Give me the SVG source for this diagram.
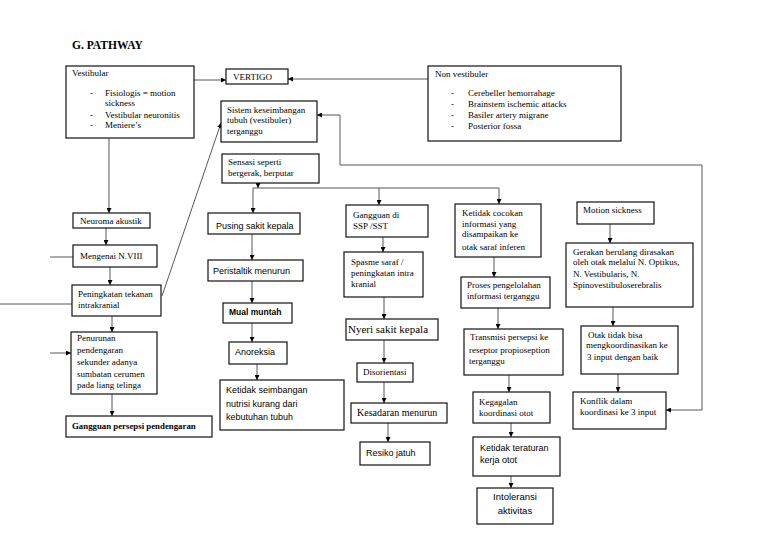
<svg xmlns="http://www.w3.org/2000/svg" width="768" height="543" viewBox="0 0 768 543">
<defs>
<style>
.bx{fill:#fff;stroke:#111;stroke-width:1.2}
.c{fill:none;stroke:#444;stroke-width:0.9}
.ca{fill:none;stroke:#444;stroke-width:0.9;marker-end:url(#a)}
text{font-family:"Liberation Serif","Times New Roman",serif;font-size:9px;fill:#000}
.ss{font-family:"Liberation Sans",Arial,sans-serif;font-size:9px}
.sb{font-family:"Liberation Sans",Arial,sans-serif;font-size:8.5px;font-weight:bold}
.t{font-size:11.5px;font-weight:bold}
.b{font-weight:bold;font-size:8.8px}
.l{font-size:10px}
</style>
<marker id="a" viewBox="0 0 10 10" refX="10" refY="5" markerWidth="5" markerHeight="5" markerUnits="userSpaceOnUse" orient="auto-start-reverse"><path d="M0,0 L10,5 L0,10z" fill="#000"/></marker>
</defs>
<rect width="768" height="543" fill="#fff"/>
<text class="t" x="72" y="49">G. PATHWAY</text>

<g id="connectors">
<path class="ca" d="M194,80 H226"/>
<path class="ca" d="M428,79 H288"/>
<path class="c" d="M666,410 H702 V165 H340 V115 H317" marker-start="url(#a)" marker-end="url(#a)"/>
<path class="ca" d="M109,138 V213"/>
<path class="ca" d="M106,228 V245"/>
<path class="c" d="M50,257 H73"/>
<path class="ca" d="M110,267 V285"/>
<path class="c" d="M0,304 H88"/>
<path class="ca" d="M162,296 L221,123"/>
<path class="ca" d="M112,316 V332"/>
<path class="ca" d="M50,353 H71"/>
<path class="ca" d="M112,394 V416"/>
<path class="ca" d="M258,183 V188"/>
<path class="c" d="M253,188 H499"/>
<path class="ca" d="M253,188 V213"/>
<path class="ca" d="M379,188 V205"/>
<path class="ca" d="M499,188 V204"/>
<path class="ca" d="M252,234 V260"/>
<path class="ca" d="M252,281 V303"/>
<path class="ca" d="M252,323 V342"/>
<path class="ca" d="M257,364 V380"/>
<path class="ca" d="M383,237 V252"/>
<path class="ca" d="M384,297 V319"/>
<path class="ca" d="M384,340 V363"/>
<path class="ca" d="M384,382 V403"/>
<path class="ca" d="M388,423 V442"/>
<path class="ca" d="M494,257 V277"/>
<path class="ca" d="M498,308 V329"/>
<path class="ca" d="M509,375 V392"/>
<path class="ca" d="M511,423 V437"/>
<path class="ca" d="M511,476 V488"/>
<path class="ca" d="M610,224 V243"/>
<path class="ca" d="M613,307 V326"/>
<path class="ca" d="M618,374 V392"/>
</g>

<g id="vestibular">
<rect class="bx" x="66" y="66" width="128" height="72"/>
<text x="72" y="76">Vestibular</text>
<text x="90" y="95.5">-</text><text x="105" y="95.5">Fisiologis = motion</text>
<text x="105" y="105.5">sickness</text>
<text x="90" y="118">-</text><text x="105" y="118">Vestibular neuronitis</text>
<text x="90" y="128">-</text><text x="105" y="128">Meniere’s</text>
</g>

<g id="vertigo">
<rect class="bx" x="226" y="69" width="62" height="15"/>
<text x="233" y="80">VERTIGO</text>
</g>

<g id="nonvestibular">
<rect class="bx" x="428" y="66" width="193" height="75"/>
<text x="435" y="77">Non vestibuler</text>
<text x="451" y="96">-</text><text x="468" y="96">Cerebeller hemorrahage</text>
<text x="451" y="107">-</text><text x="468" y="107">Brainstem  ischemic attacks</text>
<text x="451" y="118">-</text><text x="468" y="118">Basiler artery migrane</text>
<text x="451" y="128.5">-</text><text x="468" y="128.5">Posterior fossa</text>
</g>

<g id="sistem">
<rect class="bx" x="221" y="101" width="96" height="41"/>
<text x="227" y="113">Sistem keseimbangan</text>
<text x="227" y="123">tubuh (vestibuler)</text>
<text x="227" y="134">terganggu</text>
</g>

<g id="neuroma">
<rect class="bx" x="73" y="213" width="77" height="15"/>
<text x="80" y="224">Neuroma akustik</text>
</g>

<g id="mengenai">
<rect class="bx" x="73" y="245" width="84" height="22"/>
<text x="80" y="259">Mengenai N.VIII</text>
</g>

<g id="peningkatan">
<rect class="bx" x="72" y="285" width="89" height="31"/>
<text x="78" y="297">Peningkatan tekanan</text>
<text x="78" y="308">intrakranial</text>
</g>

<g id="penurunan">
<rect class="bx" x="71" y="332" width="86" height="62"/>
<text x="77" y="341">Penurunan</text>
<text x="77" y="353">pendengaran</text>
<text x="77" y="365">sekunder adanya</text>
<text x="77" y="377">sumbatan cerumen</text>
<text x="77" y="388">pada liang telinga</text>
</g>

<g id="gangguan-persepsi">
<rect class="bx" x="66" y="416" width="146" height="21"/>
<text class="b" x="72" y="429">Gangguan persepsi pendengaran</text>
</g>

<g id="sensasi">
<rect class="bx" x="222" y="154" width="97" height="29"/>
<text x="228" y="165">Sensasi seperti</text>
<text x="228" y="176">bergerak, berputar</text>
</g>

<g id="pusing">
<rect class="bx" x="208" y="213" width="92" height="21"/>
<text class="ss" x="216" y="229">Pusing sakit kepala</text>
</g>

<g id="peristaltik">
<rect class="bx" x="208" y="260" width="95" height="21"/>
<text class="ss" x="213" y="274">Peristaltik menurun</text>
</g>

<g id="mual">
<rect class="bx" x="223" y="303" width="69" height="20"/>
<text class="sb" x="229" y="315">Mual muntah</text>
</g>

<g id="anoreksia">
<rect class="bx" x="229" y="342" width="58" height="22"/>
<text class="ss" x="235" y="355">Anoreksia</text>
</g>

<g id="ketidak-seimbangan">
<rect class="bx" x="220" y="380" width="124" height="50"/>
<text class="ss" x="226" y="393">Ketidak seimbangan</text>
<text class="ss" x="226" y="406.5">nutrisi kurang dari</text>
<text class="ss" x="226" y="420">kebutuhan tubuh</text>
</g>

<g id="gangguan-ssp">
<rect class="bx" x="346" y="205" width="82" height="32"/>
<text x="353" y="218">Gangguan di</text>
<text x="353" y="229">SSP /SST</text>
</g>

<g id="spasme">
<rect class="bx" x="344" y="252" width="79" height="45"/>
<text x="351" y="265">Spasme saraf /</text>
<text x="351" y="276">peningkatan intra</text>
<text x="351" y="287">kranial</text>
</g>

<g id="nyeri">
<rect class="bx" x="346" y="319" width="92" height="21"/>
<text x="348" y="333" style="font-size:11px">Nyeri sakit kepala</text>
</g>

<g id="disorientasi">
<rect class="bx" x="357" y="363" width="56" height="19"/>
<text x="363" y="375">Disorientasi</text>
</g>

<g id="kesadaran">
<rect class="bx" x="351" y="403" width="96" height="20"/>
<text class="l" x="357" y="416">Kesadaran menurun</text>
</g>

<g id="resiko">
<rect class="bx" x="360" y="442" width="70" height="23"/>
<text class="ss" x="366" y="456">Resiko jatuh</text>
</g>

<g id="ketidak-cocokan">
<rect class="bx" x="455" y="204" width="86" height="53"/>
<text x="462" y="216">Ketidak cocokan</text>
<text x="462" y="226.5">informasi yang</text>
<text x="462" y="237">disampaikan ke</text>
<text x="462" y="250">otak saraf inferen</text>
</g>

<g id="proses">
<rect class="bx" x="461" y="277" width="89" height="31"/>
<text x="467" y="288">Proses pengelolahan</text>
<text x="467" y="299">informasi terganggu</text>
</g>

<g id="transmisi">
<rect class="bx" x="464" y="329" width="99" height="46"/>
<text x="470" y="340">Transmisi persepsi ke</text>
<text x="469" y="353">reseptor propioseption</text>
<text x="469" y="364">terganggu</text>
</g>

<g id="kegagalan">
<rect class="bx" x="473" y="392" width="77" height="31"/>
<text x="479" y="405">Kegagalan</text>
<text x="479" y="416">koordinasi otot</text>
</g>

<g id="ketidak-teraturan">
<rect class="bx" x="473" y="437" width="87" height="39"/>
<text class="ss" x="480" y="450.5">Ketidak teraturan</text>
<text class="ss" x="480" y="462.5">kerja otot</text>
</g>

<g id="intoleransi">
<rect class="bx" x="477" y="488" width="76" height="36"/>
<text class="ss" x="515" y="500" text-anchor="middle" style="font-size:9.5px">Intoleransi</text>
<text class="ss" x="515" y="514" text-anchor="middle" style="font-size:9.5px">aktivitas</text>
</g>

<g id="motion">
<rect class="bx" x="577" y="202" width="77" height="22"/>
<text x="583" y="213">Motion sickness</text>
</g>

<g id="gerakan">
<rect class="bx" x="566" y="243" width="127" height="64"/>
<text x="573" y="255">Gerakan berulang dirasakan</text>
<text x="573" y="265">oleh otak melalui N. Optikus,</text>
<text x="573" y="276.5">N. Vestibularis, N.</text>
<text x="573" y="288">Spinovestibuloserebralis</text>
</g>

<g id="otak">
<rect class="bx" x="581" y="326" width="97" height="48"/>
<text x="588" y="338">Otak tidak bisa</text>
<text x="586" y="348">mengkoordinasikan ke</text>
<text x="587" y="360">3 input dengan baik</text>
</g>

<g id="konflik">
<rect class="bx" x="573" y="392" width="93" height="37"/>
<text x="580" y="404">Konflik dalam</text>
<text x="580" y="415">koordinasi ke 3 input</text>
</g>
</svg>
